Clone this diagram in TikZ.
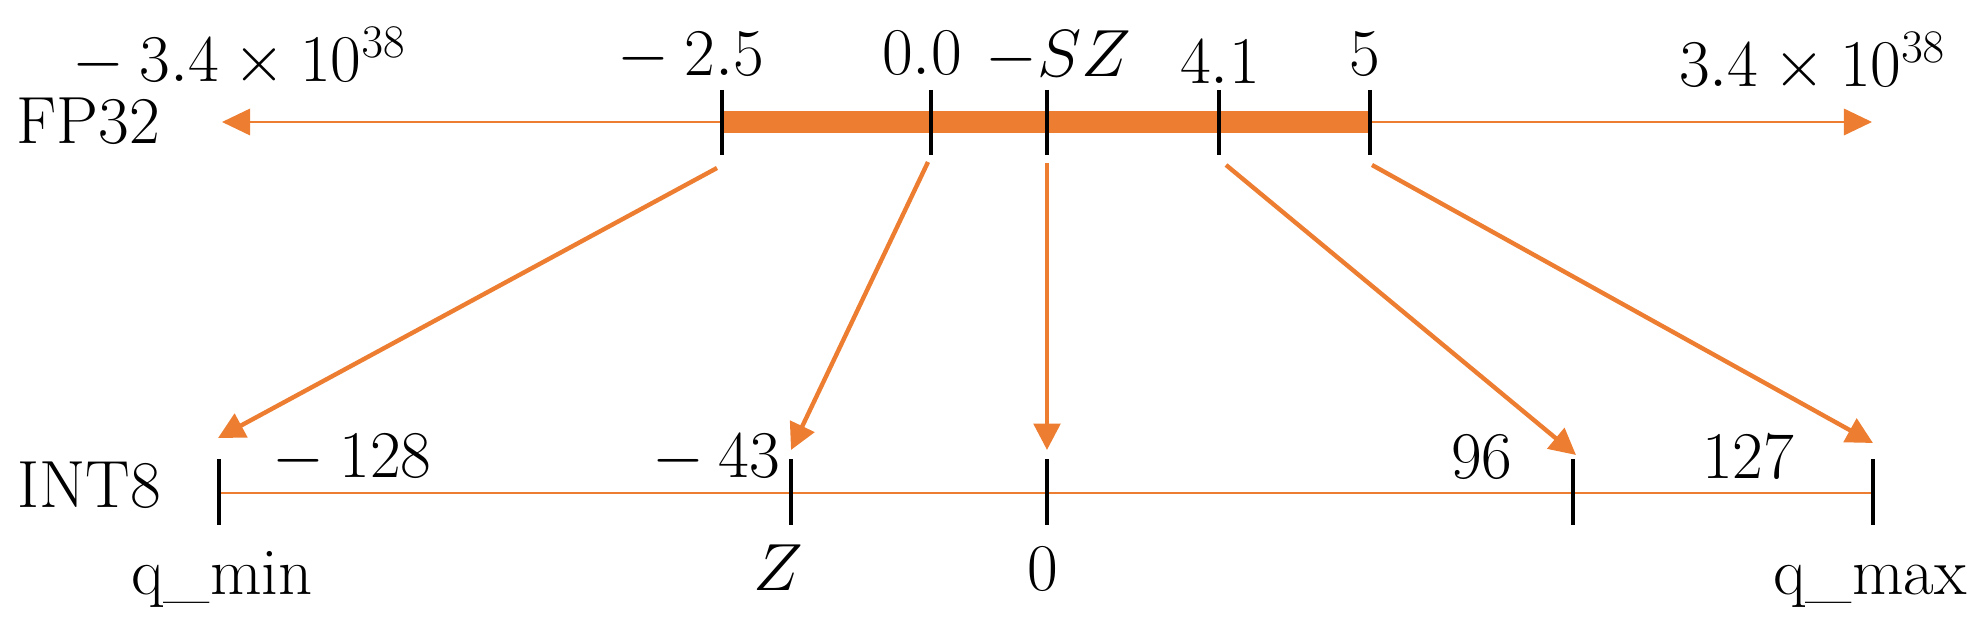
\documentclass[tikz,border=0pt]{standalone}
\usepackage{fix-cm}
\usetikzlibrary{arrows.meta}
\definecolor{cam}{RGB}{237,125,49}
\begin{document}
\begin{tikzpicture}[x=0.02cm,y=-0.02cm,line join=round,
	>={Triangle[length=15pt,width=15pt]},
	every node/.style={inner sep=0pt,anchor=base,font=\fontsize{38}{42}\selectfont},
	tick/.style={line width=2.5pt,black},
	truc/.style={line width=1.4pt,cam},
	map/.style={->,line width=2.5pt,cam}]
	\useasboundingbox (0,0) rectangle (1977,631);
	%Vẽ trục FP32
	\coordinate (fL) at (222,122);
	\coordinate (fR) at (1872,122);
	\draw[truc,<->,>={Triangle[length=16pt,width=15pt]}] (fL)--(fR);
	\foreach \n/\x in {a/722,b/931,c/1047,d/1219,e/1370} \coordinate (f\n) at (\x,122);
	\draw[line width=12pt,cam] (fa)--(fe);
	\foreach \x in {722,931,1047,1219,1370} \draw[tick] (\x,90)--(\x,155);
	\node (fp) at (88,144) {FP32};
	\node (lmin) at (239,82) {$-\:3.4\times10^{38}$};
	\node (la) at (691,76) {$-\:2.5$};
	\node (lb) at (922,75) {$0.0$};
	\node (lc) at (1058,77) {$-SZ$};
	\node (ld) at (1220,84) {$4.1$};
	\node (le) at (1365,76) {$5$};
	\node (lmax) at (1812,87) {$3.4\times10^{38}$};
	%Vẽ trục INT8
	\foreach \n/\x in {a/219,b/791,c/1047,d/1573,e/1873} \coordinate (q\n) at (\x,493);
	\draw[truc] (qa)--(qe);
	\foreach \x in {219,791,1047,1573,1873} \draw[tick] (\x,459)--(\x,525);
	\node (int) at (89,507) {INT8};
	\node (ka) at (352,477) {$-\:128$};
	\node (kb) at (716,477) {$-\:43$};
	\node (kd) at (1482,478) {$96$};
	\node (ke) at (1748,478) {$127$};
	\node (qmin) at (222,594) {q\_min};
	\node (zz) at (778,590) {$Z$};
	\node (zero) at (1043,590) {$0$};
	\node (qmax) at (1870,594) {q\_max};
	%Vẽ các mũi tên ánh xạ
	\foreach \n/\xs/\ys/\xe/\ye in {a/717/168/218/438,b/928/162/791/450,c/1047/163/1047/450,d/1226/165/1576/455,e/1372/165/1873/443}
	{\coordinate (s\n) at (\xs,\ys); \coordinate (e\n) at (\xe,\ye); \draw[map] (s\n)--(e\n);}
\end{tikzpicture}
\end{document}
